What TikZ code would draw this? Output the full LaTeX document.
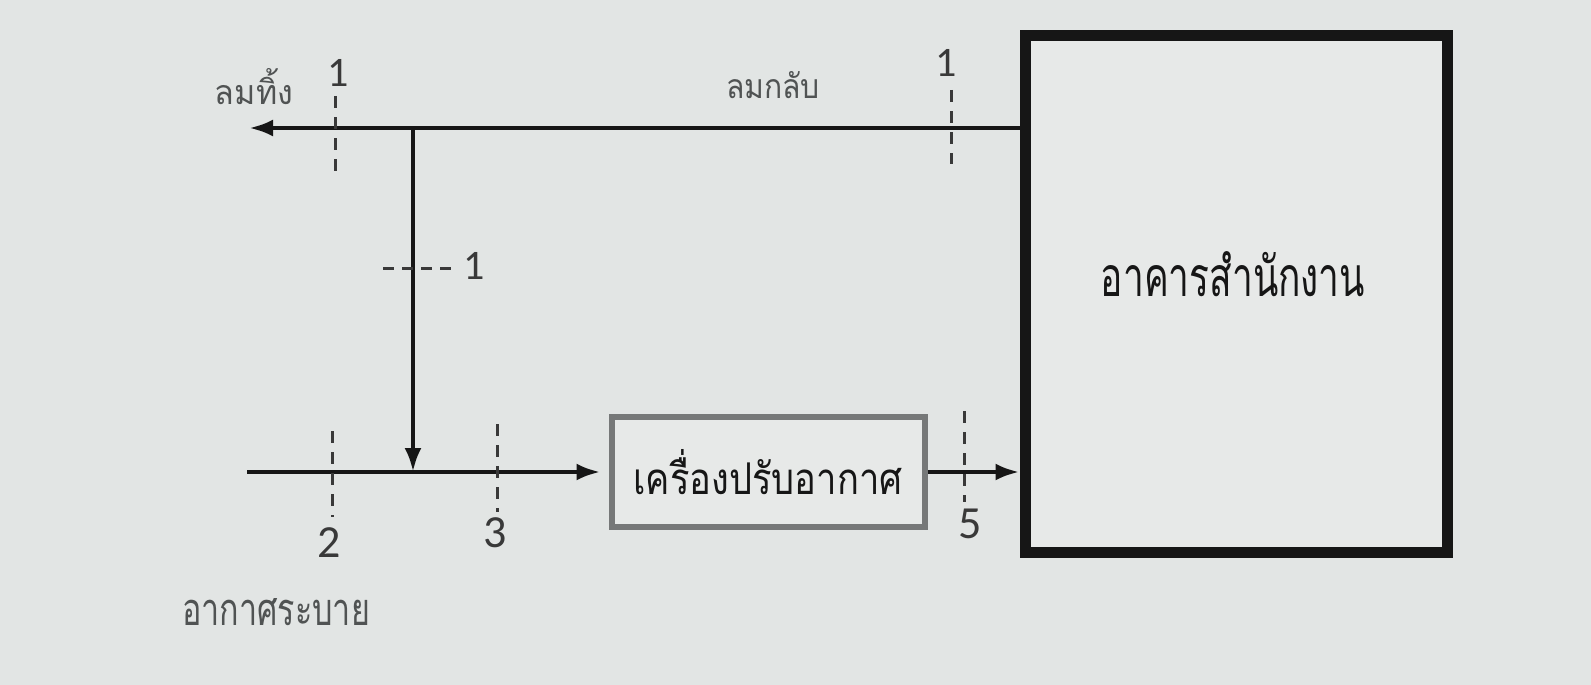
\documentclass[tikz,border=0pt]{standalone}
\usepackage{fontspec}
\usepackage{graphicx}
\setmainfont{Carlito}
\newfontfamily\thaifont[Script=Thai]{Loma}
\usetikzlibrary{arrows.meta}
\definecolor{bg}{RGB}{226,229,228}
\definecolor{bginner}{RGB}{231,233,232}
\definecolor{ink}{RGB}{22,22,22}
\definecolor{lab}{RGB}{80,83,83}
\definecolor{acgray}{RGB}{118,120,120}
\newcommand{\thtext}[3]{\resizebox{#1}{#2}{\thaifont #3}}
\begin{document}
\begin{tikzpicture}[x=1pt,y=-1pt,
  flow/.style={draw=ink,line width=4.5pt,-{Latex[length=24pt,width=17pt]}},
  plainline/.style={draw=ink,line width=4.5pt},
  secmark/.style={draw=ink!85,line width=3pt,dash pattern=on 12pt off 9pt},
  num/.style={text=ink!85,font=\fontsize{42}{46}\selectfont,inner sep=0pt},
  bignum/.style={text=ink!85,font=\fontsize{46}{50}\selectfont,inner sep=0pt},
  thlab/.style={text=lab,inner sep=0pt},
  bldbox/.style={draw=ink,line width=11pt,fill=bginner,minimum width=422pt,minimum height=517pt,inner sep=0pt},
  acbox/.style={draw=acgray,line width=6pt,fill=bginner,minimum width=313pt,minimum height=110pt,inner sep=0pt,text=ink}
]
\useasboundingbox[fill=bg] (0,0) rectangle (1591,685);

% main blocks
\node[bldbox] (bld) at (1236,294) {};
\node[inner sep=0pt,text=ink] (bldtxt) at (1233,274) {\thtext{264pt}{45pt}{อาคารสำนักงาน}};
\node[acbox] (ac) at (768,472) {\thtext{269pt}{45pt}{เครื่องปรับอากาศ}};

% return / exhaust line
\coordinate (exh) at (249,128);
\coordinate (br) at (413,128);
\draw[flow] (bld.west |- exh) -- (exh);

% outdoor air line
\coordinate (oa) at (247,472);
\draw[flow] (oa) -- ([xshift=-8pt]ac.west);
\draw[flow] (br) -- (br |- oa);

% supply
\draw[flow] (ac.east) -- (bld.west |- ac.east);

% labels
\node[thlab] (lamthing) at (254,87) {\thtext{78pt}{36pt}{ลมทิ้ง}};
\node[thlab] (lamklab) at (773,85) {\thtext{94pt}{27pt}{ลมกลับ}};
\node[thlab] (akat) at (276,612) {\thtext{188pt}{27pt}{อากาศระบาย}};

% section marks
\node[num] (n1a) at (338,73) {1};
\coordinate (d1a) at (335,96);
\draw[secmark] (d1a) -- ++(0,80);

\node[num] (n1b) at (946,63) {1};
\coordinate (d1b) at (951,90);
\draw[secmark] (d1b) -- ++(0,74);

\node[num] (n1c) at (474,266) {1};
\coordinate (d1c) at (383,268);
\draw[secmark,dash pattern=on 11pt off 8pt] (d1c) -- ++(73,0);

\node[bignum] (n2) at (329,543) {2};
\coordinate (d2) at (332,431);
\draw[secmark] (d2) -- ++(0,86);

\node[bignum] (n3) at (495,533) {3};
\coordinate (d3) at (497,424);
\draw[secmark] (d3) -- ++(0,88);

\node[bignum] (n5) at (970,524) {5};
\coordinate (d5) at (964,411);
\draw[secmark] (d5) -- ++(0,91);
\end{tikzpicture}
\end{document}
